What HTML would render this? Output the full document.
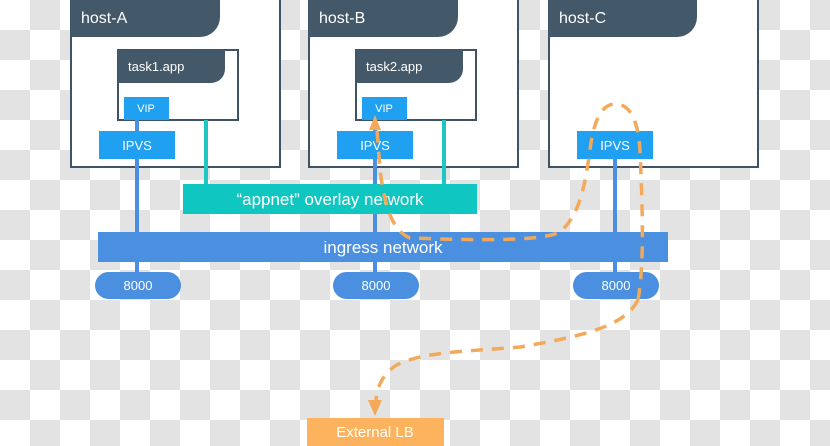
<!DOCTYPE html>
<html><head><meta charset="utf-8"><style>
html,body{margin:0;padding:0;width:830px;height:446px;overflow:hidden;background:#fff}
svg{display:block}
text{font-family:"Liberation Sans",sans-serif;fill:#fff}
</style></head><body>
<svg width="830" height="446" viewBox="0 0 830 446" xmlns="http://www.w3.org/2000/svg">
<defs>
<pattern id="ck" width="60" height="60" patternUnits="userSpaceOnUse">
<rect width="60" height="60" fill="#fff"/>
<rect x="30" y="0" width="30" height="30" fill="#e3e3e3"/>
<rect x="0" y="30" width="30" height="30" fill="#e3e3e3"/>
</pattern>
</defs>
<rect width="830" height="446" fill="url(#ck)"/>

<!-- host boxes -->
<g stroke="#3f5366" stroke-width="2" fill="#fff">
<rect x="71" y="-2" width="209" height="169"/>
<rect x="309" y="-2" width="209" height="169"/>
<rect x="549" y="-2" width="209" height="169"/>
</g>
<g fill="#435869">
<path d="M71 0 H220 V17 A20 20 0 0 1 200 37 H71 Z"/>
<path d="M309 0 H458 V17 A20 20 0 0 1 438 37 H309 Z"/>
<path d="M549 0 H697 V17 A20 20 0 0 1 677 37 H549 Z"/>
</g>
<text x="81" y="23" font-size="16">host-A</text>
<text x="319" y="23" font-size="16">host-B</text>
<text x="559" y="23" font-size="16">host-C</text>

<!-- task boxes -->
<g stroke="#3f5366" stroke-width="2" fill="#fff">
<rect x="118" y="50" width="120" height="70"/>
<rect x="356" y="50" width="120" height="70"/>
</g>
<g fill="#435869">
<path d="M118 50 H225 V69 A14 14 0 0 1 211 83 H118 Z"/>
<path d="M356 50 H463 V69 A14 14 0 0 1 449 83 H356 Z"/>
</g>
<text x="128" y="71" font-size="13">task1.app</text>
<text x="366" y="71" font-size="13">task2.app</text>

<!-- lines -->
<g stroke-width="4">
<line x1="137" y1="120" x2="137" y2="285" stroke="#4a8fe0"/>
<line x1="375" y1="120" x2="375" y2="285" stroke="#4a8fe0"/>
<line x1="615" y1="158" x2="615" y2="285" stroke="#4a8fe0"/>
<line x1="206" y1="120" x2="206" y2="186" stroke="#1fc6c2"/>
<line x1="444" y1="120" x2="444" y2="186" stroke="#1fc6c2"/>
</g>

<!-- VIP / IPVS -->
<g fill="#1fa0f0">
<rect x="124" y="97" width="45" height="23"/>
<rect x="362" y="97" width="45" height="23"/>
<rect x="99" y="131" width="76" height="28"/>
<rect x="337" y="131" width="76" height="28"/>
<rect x="577" y="131" width="76" height="28"/>
</g>
<g font-size="11" text-anchor="middle"><text x="146" y="112">VIP</text><text x="384" y="112">VIP</text></g>
<g font-size="13" text-anchor="middle"><text x="137" y="150">IPVS</text><text x="375" y="150">IPVS</text><text x="615" y="150">IPVS</text></g>

<!-- overlay -->
<rect x="183" y="184" width="294" height="30" fill="#0fc6c0"/>
<text x="330" y="205" font-size="17" text-anchor="middle">“appnet” overlay network</text>

<!-- ingress -->
<rect x="98" y="232" width="570" height="30" fill="#4a8fe0"/>
<text x="383" y="253" font-size="17" text-anchor="middle">ingress network</text>

<!-- 8000 pills -->
<g fill="#4a8fe0">
<rect x="95" y="272" width="86" height="27" rx="13.5"/>
<rect x="333" y="272" width="86" height="27" rx="13.5"/>
<rect x="573" y="272" width="86" height="27" rx="13.5"/>
</g>
<g font-size="13" text-anchor="middle"><text x="138" y="290">8000</text><text x="376" y="290">8000</text><text x="616" y="290">8000</text></g>

<!-- External LB -->
<rect x="307" y="418" width="137" height="30" fill="#fdb25d"/>
<text x="375" y="437" font-size="15" text-anchor="middle">External LB</text>

<!-- dashed paths -->
<g fill="none" stroke="#f4a95a" stroke-width="3.5" stroke-dasharray="12 9" stroke-linecap="butt">
<path d="M638 300 C645 260 642 200 640 150 C638 120 630 104 615 104 C600 104 593 125 590 150 C585 185 580 215 560 232 C540 242 470 240 410 238 C390 230 384 200 380 170 L377 130"/>
<path d="M638 300 C625 325 590 335 520 347 C460 352 420 352 395 366 C380 377 377 390 376 400"/>
</g>
<g fill="#f4a95a">
<polygon points="375,115 369,130 381,130"/>
<polygon points="375,416 368,400 382,400"/>
</g>
</svg>
</body></html>
